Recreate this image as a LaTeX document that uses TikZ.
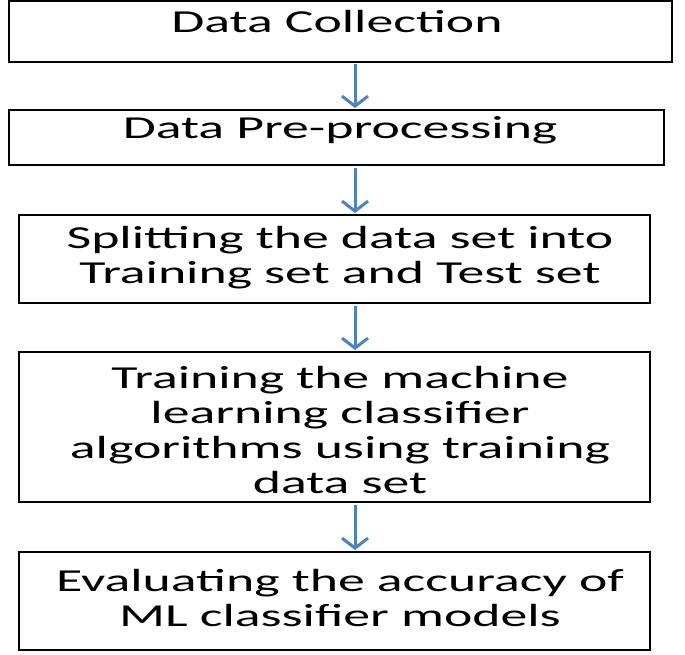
\documentclass[tikz,border=0pt]{standalone}
\usepackage{fontspec}
\setmainfont{Carlito}
\usetikzlibrary{arrows.meta}
\begin{document}
\begin{tikzpicture}[x=1pt,y=-1pt,
  boxa/.style={draw,line width=1.2pt,inner sep=0pt},
  txt/.style={font=\fontsize{32}{35}\selectfont,align=center,xscale=1.68},
  arr/.style={draw={rgb,255:red,79;green,129;blue,189},line width=3pt,-{Straight Barb[length=10pt,width=26pt,line width=3pt]}}]
\useasboundingbox (0,0) rectangle (685,654);
\draw[boxa] (9,1) rectangle (672,62);
\node[txt] (a) at (337,22) {Data Collection};
\draw[boxa] (9,110) rectangle (664,165);
\node[txt] (b) at (340,130) {Data Pre-processing};
\draw[boxa] (19,215) rectangle (650,303);
\node[txt] (c) at (340,258) {Splitting the data set into\\Training set and Test set};
\draw[boxa] (19,352) rectangle (650,502);
\node[txt] (d) at (340,430) {Training the machine\\learning classifier\\algorithms using training\\data set};
\draw[boxa] (19,552) rectangle (650,650);
\node[txt] (e) at (340,598) {Evaluating the accuracy of\\ML classifier models};
\coordinate (a1) at (355,64); \coordinate (a2) at (355,108);
\coordinate (b1) at (355,168); \coordinate (b2) at (355,213);
\coordinate (c1) at (355,306); \coordinate (c2) at (355,350);
\coordinate (d1) at (355,505); \coordinate (d2) at (355,550);
\draw[arr] (a1) -- (a2);
\draw[arr] (b1) -- (b2);
\draw[arr] (c1) -- (c2);
\draw[arr] (d1) -- (d2);
\end{tikzpicture}
\end{document}
